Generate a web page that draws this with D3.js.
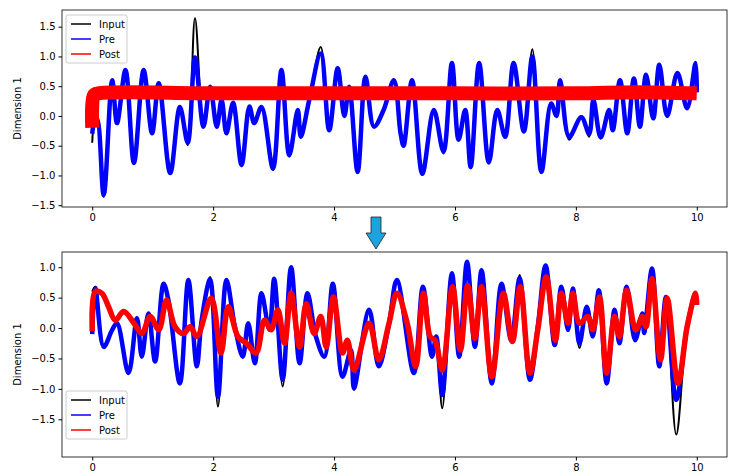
<!DOCTYPE html>
<html>
<head>
<meta charset="utf-8">
<script src="https://cdn.jsdelivr.net/npm/d3@7"></script>
<style>
body { margin: 0; background: #fff; }
text { font-family: "DejaVu Sans", sans-serif; }
</style>
</head>
<body>
<svg id="chart" width="742" height="476"></svg>
<script>
// DATA: [time, value] points
var topInput = [[0,-0.45],[0.03,-0.12],[0.08,0.0],[0.19,-1.36],[0.33,0.6],[0.41,-0.12],[0.55,0.77],[0.69,-0.79],[0.85,0.77],[0.99,-0.29],[1.1,0.55],[1.29,-0.96],[1.45,0.15],[1.58,-0.49],[1.70,1.64],[1.84,-0.18],[1.95,0.49],[2.06,-0.18],[2.14,0.27],[2.22,-0.29],[2.33,0.22],[2.47,-0.85],[2.6,0.16],[2.68,-0.12],[2.8,0.15],[2.99,-0.91],[3.13,0.77],[3.26,-0.68],[3.40,0.1],[3.45,-0.35],[3.59,0.27],[3.78,1.16],[3.92,-0.24],[4.06,0.8],[4.17,0],[4.25,0.49],[4.39,-0.96],[4.52,0.66],[4.66,-0.18],[4.82,0.1],[4.99,0.6],[5.1,-0.29],[5.15,-0.52],[5.29,0.6],[5.46,-0.99],[5.65,0.1],[5.81,-0.63],[5.95,0.89],[6.06,-0.4],[6.17,0.1],[6.26,-0.88],[6.40,0.89],[6.56,-0.8],[6.70,0.1],[6.83,-0.35],[6.97,0.89],[7.14,-0.26],[7.28,1.12],[7.43,-0.96],[7.59,0.21],[7.68,0],[7.74,0.6],[7.89,-0.4],[8.09,0],[8.22,-0.35],[8.29,0.27],[8.41,-0.38],[8.55,0.1],[8.61,-0.24],[8.73,0.6],[8.85,-0.29],[8.96,0.63],[9.06,-0.18],[9.16,0.69],[9.28,-0.04],[9.38,0.86],[9.51,0],[9.68,0.72],[9.84,0.13],[9.98,0.89],[10,0.4]];
var topPre = [[0,-0.3],[0.03,-0.12],[0.08,-0.05],[0.19,-1.33],[0.33,0.6],[0.41,-0.12],[0.55,0.77],[0.69,-0.79],[0.85,0.77],[0.99,-0.29],[1.1,0.55],[1.29,-0.96],[1.45,0.15],[1.58,-0.45],[1.70,0.98],[1.84,-0.18],[1.95,0.49],[2.06,-0.18],[2.14,0.27],[2.22,-0.29],[2.33,0.22],[2.47,-0.82],[2.6,0.16],[2.68,-0.12],[2.8,0.15],[2.99,-0.88],[3.13,0.77],[3.26,-0.66],[3.40,0.1],[3.45,-0.35],[3.59,0.27],[3.78,1.05],[3.92,-0.24],[4.06,0.8],[4.17,0],[4.25,0.49],[4.39,-0.94],[4.52,0.66],[4.66,-0.18],[4.82,0.1],[4.99,0.6],[5.1,-0.29],[5.15,-0.5],[5.29,0.6],[5.46,-0.97],[5.65,0.1],[5.81,-0.6],[5.95,0.89],[6.06,-0.4],[6.17,0.1],[6.26,-0.86],[6.40,0.89],[6.56,-0.78],[6.70,0.1],[6.83,-0.35],[6.97,0.89],[7.14,-0.26],[7.28,1.0],[7.43,-0.94],[7.59,0.21],[7.68,0],[7.74,0.6],[7.89,-0.35],[8.09,-0.02],[8.22,-0.3],[8.29,0.27],[8.41,-0.36],[8.55,0.1],[8.61,-0.24],[8.73,0.6],[8.85,-0.29],[8.96,0.63],[9.06,-0.18],[9.16,0.69],[9.28,-0.04],[9.38,0.86],[9.51,0],[9.68,0.72],[9.84,0.13],[9.98,0.89],[10,0.4]];
var topPost = [[0,-0.2],[0.03,0.35],[0.1,0.38],[2,0.38],[4,0.38],[6,0.38],[8,0.38],[9,0.4],[10,0.38]];

var botInput = [[0,0.6],[0.05,0.68],[0.19,-0.31],[0.33,-0.03],[0.41,0.08],[0.60,-0.74],[0.74,0.16],[0.82,-0.47],[0.93,0.24],[1.04,-0.55],[1.18,0.73],[1.26,0.46],[1.45,-0.91],[1.59,0.79],[1.73,-0.63],[1.81,0.13],[1.95,0.84],[2.08,-1.29],[2.22,0.79],[2.36,0.02],[2.49,-0.47],[2.58,0.08],[2.69,-0.58],[2.80,0.57],[2.93,-0.03],[3.01,0.81],[3.15,-0.96],[3.29,1.0],[3.43,-0.58],[3.56,0.57],[3.70,-0.14],[3.84,-0.47],[3.98,0.73],[4.14,-0.8],[4.28,-0.36],[4.33,-1.02],[4.58,0.3],[4.74,-0.63],[4.91,0.08],[5.04,0.79],[5.32,-0.74],[5.47,0.68],[5.62,-0.47],[5.69,-0.14],[5.79,-1.32],[5.95,0.9],[6.07,-0.47],[6.20,1.09],[6.33,-0.31],[6.44,0.95],[6.61,-0.91],[6.77,0.73],[6.93,-0.2],[7.07,0.87],[7.24,-0.85],[7.37,0.02],[7.50,1.03],[7.65,-0.28],[7.76,0.68],[7.87,-0.03],[7.95,0.65],[8.06,-0.33],[8.18,0.35],[8.28,-0.14],[8.38,0.62],[8.51,-0.91],[8.64,0.3],[8.72,-0.25],[8.84,0.68],[8.98,-0.2],[9.10,0.24],[9.13,-0.08],[9.26,0.8],[9.38,-0.63],[9.49,0.51],[9.66,-1.75],[9.84,0.02],[9.98,0.57],[10,0.38]];
var botPre = [[0,-0.1],[0.05,0.66],[0.19,-0.31],[0.33,-0.03],[0.41,0.08],[0.60,-0.74],[0.74,0.16],[0.82,-0.47],[0.93,0.24],[1.04,-0.55],[1.18,0.73],[1.26,0.46],[1.45,-0.91],[1.59,0.79],[1.73,-0.63],[1.81,0.13],[1.95,0.8],[2.08,-1.13],[2.22,0.79],[2.36,0.02],[2.49,-0.47],[2.58,0.08],[2.69,-0.58],[2.80,0.57],[2.93,-0.03],[3.01,0.81],[3.15,-0.85],[3.29,1.0],[3.43,-0.58],[3.56,0.57],[3.70,-0.14],[3.84,-0.47],[3.98,0.73],[4.14,-0.8],[4.28,-0.36],[4.33,-0.99],[4.58,0.3],[4.74,-0.63],[4.91,0.08],[5.04,0.79],[5.32,-0.74],[5.47,0.68],[5.62,-0.47],[5.69,-0.14],[5.79,-1.1],[5.95,0.9],[6.07,-0.47],[6.20,1.09],[6.33,-0.31],[6.44,0.95],[6.61,-0.91],[6.77,0.73],[6.93,-0.2],[7.07,0.82],[7.24,-0.85],[7.37,0.02],[7.50,1.03],[7.65,-0.28],[7.76,0.68],[7.87,-0.03],[7.95,0.65],[8.06,-0.25],[8.18,0.35],[8.28,-0.14],[8.38,0.62],[8.51,-0.91],[8.64,0.3],[8.72,-0.25],[8.84,0.68],[8.98,-0.2],[9.10,0.24],[9.13,-0.08],[9.26,0.98],[9.38,-0.63],[9.49,0.51],[9.66,-1.18],[9.84,0.02],[9.98,0.57],[10,0.38]];
var botPost = [[0,-0.05],[0.05,0.6],[0.16,0.57],[0.27,0.35],[0.38,0.13],[0.52,0.27],[0.69,0.08],[0.82,-0.09],[0.96,0.19],[1.1,-0.03],[1.23,0.46],[1.37,0.02],[1.51,-0.09],[1.62,0.02],[1.73,-0.14],[1.97,0.49],[2.13,-0.41],[2.25,0.35],[2.41,-0.14],[2.55,-0.25],[2.71,-0.41],[2.85,0.13],[2.96,-0.03],[3.07,0.3],[3.18,-0.25],[3.29,0.57],[3.43,-0.31],[3.54,0.4],[3.67,-0.09],[3.78,0.19],[3.87,-0.31],[3.99,0.51],[4.14,-0.41],[4.22,-0.2],[4.33,-0.69],[4.58,0.08],[4.74,-0.52],[4.91,0.08],[5.04,0.57],[5.21,0.08],[5.35,-0.63],[5.48,0.57],[5.59,-0.14],[5.67,-0.2],[5.79,-0.69],[5.96,0.68],[6.09,-0.36],[6.21,0.7],[6.33,-0.17],[6.44,0.68],[6.61,-0.8],[6.80,0.57],[6.95,-0.22],[7.08,0.68],[7.24,-0.74],[7.37,-0.03],[7.51,0.84],[7.66,-0.2],[7.76,0.57],[7.87,0.08],[7.95,0.57],[8.06,0.08],[8.20,0.19],[8.28,-0.03],[8.39,0.51],[8.51,-0.74],[8.64,0.19],[8.72,-0.14],[8.84,0.62],[8.99,-0.03],[9.10,0.19],[9.16,0.02],[9.26,0.81],[9.40,-0.52],[9.51,0.49],[9.69,-0.91],[9.84,0.02],[9.98,0.57],[10,0.38]];

var xTicks = [0, 2, 4, 6, 8, 10];
var topYTicks = [-1.5, -1.0, -0.5, 0.0, 0.5, 1.0, 1.5];
var botYTicks = [-1.5, -1.0, -0.5, 0.0, 0.5, 1.0];
var seriesNames = ["Input", "Pre", "Post"];
var seriesColors = ["#000000", "#0000ff", "#ff0000"];

var svg = d3.select("#chart");

function panel(box, yDomain, yTicks, data, widths, legendY) {
  var x = d3.scaleLinear().domain([-0.5, 10.5]).range([box.left, box.right]);
  var y = d3.scaleLinear().domain(yDomain).range([box.bottom, box.top]);
  var g = svg.append("g");

  g.append("clipPath").attr("id", "clip" + box.top)
    .append("rect").attr("x", box.left).attr("y", box.top)
    .attr("width", box.right - box.left).attr("height", box.bottom - box.top);

  var line = d3.line().x(d => x(d[0])).y(d => y(d[1])).curve(d3.curveCatmullRom.alpha(0.5));
  var lines = g.append("g").attr("clip-path", "url(#clip" + box.top + ")");
  data.forEach(function(s, i) {
    lines.append("path").attr("d", line(s)).attr("fill", "none")
      .attr("stroke", seriesColors[i]).attr("stroke-width", widths[i])
      .attr("stroke-linejoin", "round").attr("stroke-linecap", "butt");
  });

  g.append("g").attr("transform", "translate(0," + box.bottom + ")")
    .call(d3.axisBottom(x).tickValues(xTicks).tickFormat(d3.format("d")).tickSizeOuter(0).tickSize(3.5));
  g.append("g").attr("transform", "translate(" + box.left + ",0)")
    .call(d3.axisLeft(y).tickValues(yTicks).tickFormat(d3.format(".1f")).tickSizeOuter(0).tickSize(3.5));
  g.selectAll(".tick text").attr("font-size", 10).attr("font-family", "DejaVu Sans").attr("fill", "#000");
  g.selectAll(".domain").remove();
  g.append("rect").attr("x", box.left).attr("y", box.top)
    .attr("width", box.right - box.left).attr("height", box.bottom - box.top)
    .attr("fill", "none").attr("stroke", "#000").attr("stroke-width", 0.8);

  g.append("text").attr("transform", "translate(21," + ((box.top + box.bottom) / 2) + ") rotate(-90)")
    .attr("text-anchor", "middle").attr("font-size", 10).text("Dimension 1");

  // legend
  var lg = g.append("g").attr("transform", "translate(" + (box.left + 4) + "," + legendY + ")");
  lg.append("rect").attr("width", 61).attr("height", 48).attr("rx", 2)
    .attr("fill", "#fff").attr("fill-opacity", 0.8).attr("stroke", "#ccc");
  seriesNames.forEach(function(n, i) {
    lg.append("line").attr("x1", 5).attr("x2", 25).attr("y1", 9 + i * 15).attr("y2", 9 + i * 15)
      .attr("stroke", seriesColors[i]).attr("stroke-width", 1.5);
    lg.append("text").attr("x", 33).attr("y", 13 + i * 15).attr("font-size", 10).text(n);
  });
}

panel({left: 62, right: 727, top: 10, bottom: 207}, [-1.53, 1.78], topYTicks,
  [topInput, topPre, topPost], [2, 4.5, 14], 15);
panel({left: 62, right: 727, top: 252, bottom: 457}, [-2.12, 1.25], botYTicks,
  [botInput, botPre, botPost], [2, 4.5, 5.5], 391);

// arrow between the panels
svg.append("path")
  .attr("d", "M371,217 L381,217 L381,233 L386,233 L376,249 L366,233 L371,233 Z")
  .attr("fill", "#1aa3dc").attr("stroke", "#222").attr("stroke-width", 0.8);
</script>
</body>
</html>
